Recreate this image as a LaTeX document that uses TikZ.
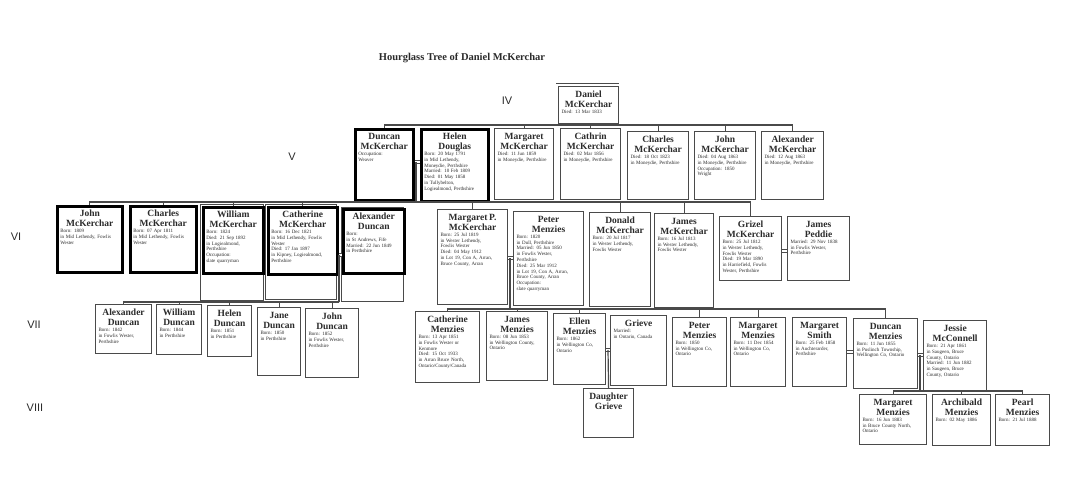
\documentclass[tikz,border=0pt]{standalone}
\usepackage{fontspec}
\setmainfont{Liberation Serif}
\setsansfont{Liberation Sans}
\usepackage{tikz}
\usetikzlibrary{positioning}
\definecolor{ink}{HTML}{2B2B2B}
\definecolor{edge}{HTML}{4A4A4A}
\newcommand{\nmfont}{\bfseries\fontsize{9.5}{10}\selectfont}
\newcommand{\dtfont}{\fontsize{5}{5.8}\selectfont}
\tikzset{
  every node/.style={font=\rmfamily,text=ink},
  pbox/.style={draw=edge,line width=1.2pt,fill=white,inner sep=0pt},
  pbold/.style={draw=black,line width=2.6pt,fill=white,inner sep=0pt},
  pframe/.style={draw=edge,line width=1pt,fill=white,inner sep=0pt},
  ptxt/.style={anchor=north,inner sep=0pt,font=\dtfont},
  ln/.style={draw=edge,line width=1.2pt},
  wed/.style={draw=edge,line width=0.8pt,double,double distance=1.6pt},
  gen/.style={font=\sffamily\fontsize{11}{11}\selectfont},
  ttl/.style={font=\bfseries\fontsize{10.5}{12}\selectfont},
}
% person box: [style]{name}{x}{y}{w}{h}{name text}{details}
\newcommand{\pers}[8][pbox]{%
  \node[#1,minimum width=#5pt,minimum height=#6pt,anchor=north west] (#2) at (#3,#4) {};
  \pgfmathsetmacro{\pw}{#5-6}%
  \node[ptxt,text width=\pw pt] at ([yshift=-5pt]#2.north)
    {\parindent=0pt{\centering\nmfont #7\par}\raggedright #8};%
}

\begin{document}
\begin{tikzpicture}[x=1pt,y=-1pt]
\useasboundingbox (0,0) rectangle (1091,493);
\fill[white] (0,0) rectangle (1091,493);

\node[ttl] (title) at (462,58) {Hourglass Tree of Daniel McKerchar};
\node[gen] (gIV) at (507,101) {IV};
\node[gen] (gV) at (292,157) {V};
\node[gen] (gVI) at (16,237) {VI};
\node[gen] (gVII) at (34,325) {VII};
\node[gen] (gVIII) at (35,408) {VIII};

% row IV
\pers{daniel}{558}{86}{60}{37}{Daniel\\McKerchar}{Died: 13 Mar 1833}
\draw[ln,line width=0.8pt] ([yshift=3pt,xshift=-2pt]daniel.north west) -- ([yshift=3pt]daniel.north east);

% row V
\pers[pbold]{duncan}{354}{128}{58}{71}{Duncan\\McKerchar}{Occupation:\\Weaver}
\pers[pbold]{helen}{420}{128}{67}{72}{Helen\\Douglas}{Born: 20 May 1791\\in Mid Lethendy,\\Moneydie, Perthshire\\Married: 10 Feb 1809\\Died: 01 May 1858\\in Tullybelton,\\Logiealmond, Perthshire}
\pers{margaret}{494}{128}{59}{71}{Margaret\\McKerchar}{Died: 11 Jun 1859\\in Moneydie, Perthshire}
\pers{cathrin}{560}{128}{60}{71}{Cathrin\\McKerchar}{Died: 02 Mar 1856\\in Moneydie, Perthshire}
\pers{charlesV}{627}{131}{61}{68}{Charles\\McKerchar}{Died: 18 Oct 1823\\in Moneydie, Perthshire}
\pers{johnV}{694}{131}{61}{68}{John\\McKerchar}{Died: 04 Aug 1863\\in Moneydie, Perthshire\\Occupation: 1850\\Wright}
\pers{alexanderV}{761}{131}{62}{68}{Alexander\\McKerchar}{Died: 12 Aug 1863\\in Moneydie, Perthshire}

% row VI
\pers[pbold]{johnVI}{56}{205}{65}{66}{John\\McKerchar}{Born: 1809\\in Mid Lethendy, Fowlis\\Wester}
\pers[pbold]{charlesVI}{129}{205}{66}{66}{Charles\\McKerchar}{Born: 07 Apr 1811\\in Mid Lethendy, Fowlis\\Wester}
\node[pframe,minimum width=63pt,minimum height=96pt,anchor=north west] (williamF) at (200,204) {};
\node[pframe,minimum width=71pt,minimum height=95pt,anchor=north west] (catherineF) at (265,204) {};
\node[pframe,minimum width=62pt,minimum height=94pt,anchor=north west] (alexDuncanF) at (341,207) {};
\pers[pbold]{william}{202}{206}{60}{66}{William\\McKerchar}{Born: 1824\\Died: 21 Sep 1892\\in Logiealmond,\\Perthshire\\Occupation:\\slate quarryman}
\pers[pbold]{catherine}{267}{206}{69}{67}{Catherine\\McKerchar}{Born: 16 Dec 1821\\in Mid Lethendy, Fowlis\\Wester\\Died: 17 Jan 1897\\in Kipney, Logiealmond,\\Perthshire}
\pers[pbold]{alexDuncan}{342}{208}{61}{64}{Alexander\\Duncan}{Born:\\in St Andrews, Fife\\Married: 22 Jun 1849\\in Perthshire}
\pers{margaretP}{437}{209}{70}{95}{Margaret P.\\McKerchar}{Born: 25 Jul 1819\\in Wester Lethendy,\\Fowlis Wester\\Died: 04 May 1912\\in Lot 19, Con A, Arran,\\Bruce County, Arran}
\pers{peter}{513}{211}{70}{94}{Peter\\Menzies}{Born: 1820\\in Dull, Perthshire\\Married: 05 Jun 1850\\in Fowlis Wester,\\Perthshire\\Died: 25 Mar 1912\\in Lot 19, Con A, Arran,\\Bruce County, Arran\\Occupation:\\slate quarryman}
\pers{donald}{589}{212}{61}{94}{Donald\\McKerchar}{Born: 20 Jul 1817\\in Wester Lethendy,\\Fowlis Wester}
\pers{jamesVI}{654}{213}{59}{94}{James\\McKerchar}{Born: 16 Jul 1813\\in Wester Lethendy,\\Fowlis Wester}
\pers{grizel}{719}{216}{62}{64}{Grizel\\McKerchar}{Born: 25 Jul 1812\\in Wester Lethendy,\\Fowlis Wester\\Died: 19 Mar 1890\\in Harriefield, Fowlis\\Wester, Perthshire}
\pers{peddie}{787}{216}{62}{64}{James\\Peddie}{Married: 29 Nov 1838\\in Fowlis Wester,\\Perthshire}

% row VII
\pers{alexD}{95}{304}{56}{49}{Alexander\\Duncan}{Born: 1842\\in Fowlis Wester,\\Perthshire}
\pers{williamD}{156}{304}{45}{50}{William\\Duncan}{Born: 1844\\in Perthshire}
\pers{helenD}{207}{305}{44}{51}{Helen\\Duncan}{Born: 1851\\in Perthshire}
\pers{janeD}{257}{307}{43}{68}{Jane\\Duncan}{Born: 1850\\in Perthshire}
\pers{johnD}{305}{308}{53}{69}{John\\Duncan}{Born: 1852\\in Fowlis Wester,\\Perthshire}
\pers{catherineM}{415}{311}{64}{71}{Catherine\\Menzies}{Born: 13 Apr 1851\\in Fowlis Wester or\\Kenmore\\Died: 15 Oct 1933\\in Arran Bruce North,\\Ontario/County/Canada}
\pers{jamesM}{486}{311}{61}{69}{James\\Menzies}{Born: 08 Jun 1853\\in Wellington County,\\Ontario}
\pers{ellen}{553}{313}{52}{71}{Ellen\\Menzies}{Born: 1862\\in Wellington Co,\\Ontario}
\pers{grieve}{610}{315}{56}{70}{Grieve}{Married:\\in Ontario, Canada}
\pers{peterM}{672}{317}{54}{69}{Peter\\Menzies}{Born: 1850\\in Wellington Co,\\Ontario}
\pers{margaretM}{730}{317}{55}{69}{Margaret\\Menzies}{Born: 11 Dec 1854\\in Wellington Co,\\Ontario}
\pers{smith}{792}{317}{54}{69}{Margaret\\Smith}{Born: 25 Feb 1858\\in Auchterarder,\\Perthshire}
\pers{duncanM}{853}{318}{64}{70}{Duncan\\Menzies}{Born: 11 Jun 1855\\in Puslinch Township,\\Wellington Co, Ontario}
\pers{jessie}{923}{320}{63}{70}{Jessie\\McConnell}{Born: 21 Apr 1861\\in Saugeen, Bruce\\County, Ontario\\Married: 11 Jun 1882\\in Saugeen, Bruce\\County, Ontario}

% row VIII
\pers{daughter}{583}{388}{50}{49}{Daughter\\Grieve}{}
\pers{margaretMM}{859}{394}{67}{50}{Margaret\\Menzies}{Born: 16 Jun 1883\\in Bruce County North,\\Ontario}
\pers{archibald}{932}{394}{58}{51}{Archibald\\Menzies}{Born: 02 May 1886}
\pers{pearl}{995}{394}{54}{51}{Pearl\\Menzies}{Born: 21 Jul 1888}

% unions and lines of descent
\coordinate (bV) at (588,125);
\draw[ln] (daniel.south) -- (bV);
\foreach \c in {duncan,margaret,cathrin,charlesV,johnV,alexanderV}
  \draw[ln] (bV) -| (\c.north);

\coordinate (uDH) at (416,162);
\coordinate (bVI) at (416,202);
\draw[wed] (duncan.east |- uDH) -- (helen.west |- uDH);
\draw[ln] (uDH) -- (bVI);
\foreach \c in {johnVI,charlesVI,william,catherine,margaretP,donald,jamesVI,grizel}
  \draw[ln] (bVI) -| (\c.north);

\coordinate (uCA) at (339,255);
\coordinate (bVIIa) at (339,302);
\draw[wed] (catherine.east |- uCA) -- (alexDuncan.west |- uCA);
\draw[ln] (uCA) -- (bVIIa);
\foreach \c in {alexD,williamD,helenD,janeD,johnD}
  \draw[ln] (bVIIa) -| (\c.north);

\coordinate (uMP) at (510,258);
\coordinate (bVIIb) at (510,309);
\draw[wed] (margaretP.east |- uMP) -- (peter.west |- uMP);
\draw[ln] (uMP) -- (bVIIb);
\foreach \c in {catherineM,jamesM,ellen,peterM,margaretM,duncanM}
  \draw[ln] (bVIIb) -| (\c.north);

\draw[wed] (grizel.east |- 0,251) -- (peddie.west |- 0,251);

\coordinate (uEG) at (608,350);
\draw[wed] (ellen.east |- uEG) -- (grieve.west |- uEG);
\draw[ln] (uEG) -- (daughter.north);

\draw[wed] (smith.east |- 0,352) -- (duncanM.west |- 0,352);

\coordinate (uDJ) at (920,355);
\coordinate (bVIII) at (920,391);
\draw[wed] (duncanM.east |- uDJ) -- (jessie.west |- uDJ);
\draw[ln] (uDJ) -- (bVIII);
\foreach \c in {margaretMM,archibald,pearl}
  \draw[ln] (bVIII) -| (\c.north);
\end{tikzpicture}
\end{document}
